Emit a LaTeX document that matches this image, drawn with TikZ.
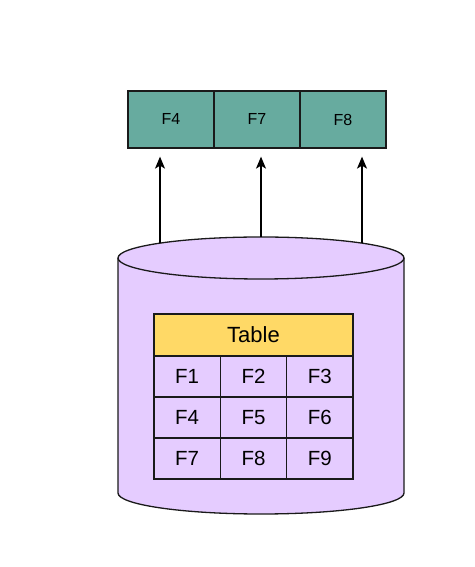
\documentclass[tikz,border=0pt]{standalone}
\usepackage{fontspec}
\setmainfont{Liberation Sans}
\usetikzlibrary{arrows.meta}
\definecolor{teal1}{HTML}{67AB9F}
\definecolor{lilac}{HTML}{E5CCFF}
\definecolor{gold}{HTML}{FFD966}
\definecolor{edge}{HTML}{1A1A1A}
\tikzset{
  topbox/.style={draw=edge, line width=1.3pt, fill=teal1, minimum width=86pt, minimum height=57pt, inner sep=0pt, font=\fontsize{16}{19}\selectfont},
  cell/.style={draw=edge, line width=1.3pt, fill=lilac, minimum width=66.33pt, minimum height=41pt, inner sep=0pt, font=\fontsize{20.5}{24}\selectfont},
  headcell/.style={draw=edge, line width=1.3pt, fill=gold, minimum width=199pt, minimum height=42pt, inner sep=0pt, font=\fontsize{22}{26}\selectfont},
  conn/.style={line width=1.3pt, draw=black, -{Stealth[length=12pt,width=10pt,inset=3pt]}}
}
\begin{document}
\begin{tikzpicture}[x=1pt,y=1pt]
\useasboundingbox (0,0) rectangle (474,567);
% cylinder
\draw[edge, line width=1.3pt, fill=lilac] (118,309) -- (118,74) arc[start angle=180, end angle=360, x radius=143, y radius=21] -- (404,309);
\draw[edge, line width=1.3pt, fill=lilac] (261,309) ellipse[x radius=143, y radius=21];
% top boxes
\node[topbox] (o4) at (171,447.5) {F4};
\node[topbox] (o7) at (257,447.5) {F7};
\node[topbox] (o8) at (343,447.5) {F8};
% table
\node[headcell] (head) at (253.5,232) {Table};
\node[cell] (c1) at (187.17,190.5) {F1};
\node[cell] (c2) at (253.5,190.5) {F2};
\node[cell] (c3) at (319.83,190.5) {F3};
\node[cell] (c4) at (187.17,149.5) {F4};
\node[cell] (c5) at (253.5,149.5) {F5};
\node[cell] (c6) at (319.83,149.5) {F6};
\node[cell] (c7) at (187.17,108.5) {F7};
\node[cell] (c8) at (253.5,108.5) {F8};
\node[cell] (c9) at (319.83,108.5) {F9};
% arrows
\coordinate (s1) at (160,324);
\coordinate (s2) at (261,330);
\coordinate (s3) at (362,324);
\draw[conn] (s1) -- ([yshift=-8pt]s1 |- o4.south);
\draw[conn] (s2) -- ([yshift=-8pt]s2 |- o7.south);
\draw[conn] (s3) -- ([yshift=-8pt]s3 |- o8.south);
\end{tikzpicture}
\end{document}
